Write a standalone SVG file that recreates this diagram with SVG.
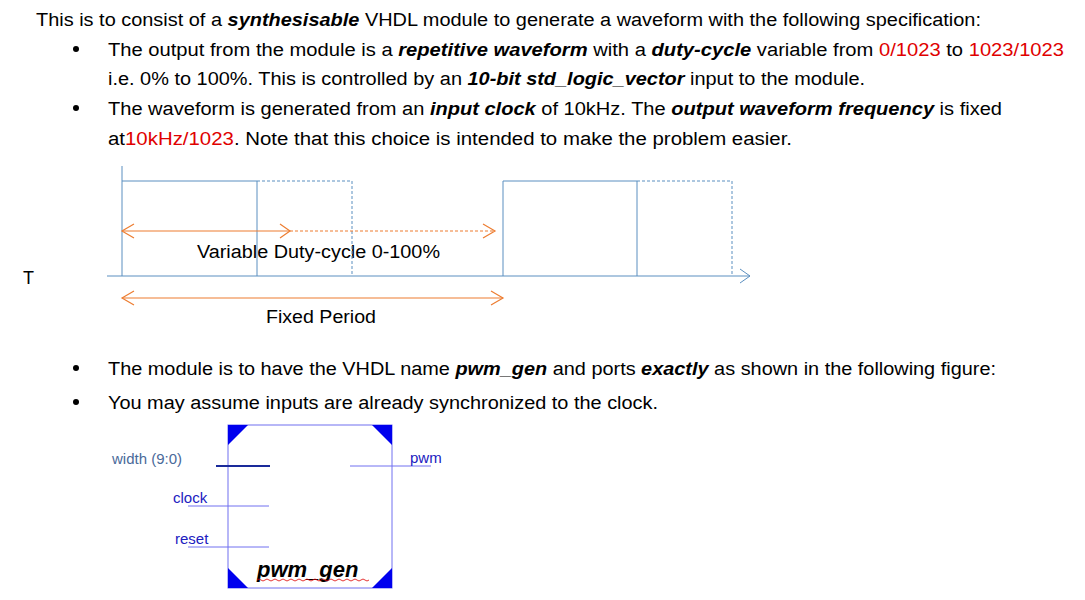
<svg xmlns="http://www.w3.org/2000/svg" width="1085" height="600" viewBox="0 0 1085 600">
<style>
.t{font-family:"Liberation Sans",Arial,sans-serif;font-size:18px;fill:#000}
.b{font-weight:bold;font-style:italic}
.r{fill:#e00000}
.w{stroke:#5b8fc0;stroke-width:1;fill:none}
.o{stroke:#ed7d31;stroke-width:1.2;fill:none}
.d{stroke-dasharray:3,2}
.p{font-family:"Liberation Sans",Arial,sans-serif;font-size:15px;fill:#2020c0}
.bl{stroke:#7070f0;stroke-width:1;fill:none}
</style>
<rect width="1085" height="600" fill="#fff"/>
<g id="text">
<text class="t" x="36" y="26" textLength="945" lengthAdjust="spacingAndGlyphs">This is to consist of a <tspan class="b">synthesisable</tspan> VHDL module to generate a waveform with the following specification:</text>
<circle cx="76" cy="49" r="3"/><circle cx="76" cy="108" r="3"/><circle cx="76" cy="368" r="3"/><circle cx="76" cy="402" r="3"/>
<text class="t" x="108" y="56" textLength="956" lengthAdjust="spacingAndGlyphs">The output from the module is a <tspan class="b">repetitive waveform</tspan> with a <tspan class="b">duty-cycle</tspan> variable from <tspan class="r">0/1023</tspan> to <tspan class="r">1023/1023</tspan></text>
<text class="t" x="108" y="85" textLength="757" lengthAdjust="spacingAndGlyphs">i.e. 0% to 100%.  This is controlled by an <tspan class="b">10-bit std_logic_vector</tspan> input to the module.</text>
<text class="t" x="108" y="115" textLength="894" lengthAdjust="spacingAndGlyphs">The waveform is generated from an <tspan class="b">input clock</tspan> of 10kHz. The <tspan class="b">output waveform frequency</tspan> is fixed</text>
<text class="t" x="108" y="145" textLength="684" lengthAdjust="spacingAndGlyphs">at<tspan class="r">10kHz/1023</tspan>. Note that this choice is intended to make the problem easier.</text>
<text class="t" x="197" y="258" textLength="243" lengthAdjust="spacingAndGlyphs">Variable Duty-cycle 0-100%</text>
<text class="t" x="266" y="323" textLength="110" lengthAdjust="spacingAndGlyphs">Fixed Period</text>
<text class="t" x="23" y="284">T</text>
<text class="t" x="108" y="375" textLength="888" lengthAdjust="spacingAndGlyphs">The module is to have the VHDL name <tspan class="b">pwm_gen</tspan> and ports <tspan class="b">exactly</tspan> as shown in the following figure:</text>
<text class="t" x="108" y="409" textLength="550" lengthAdjust="spacingAndGlyphs">You may assume inputs are already synchronized to the clock.</text>
</g>
<g id="waveform">
<line class="w" x1="107" y1="276" x2="750" y2="276"/>
<polyline class="w" points="740,269 750,276 740,283"/>
<polyline class="w" points="122,166 122,276"/>
<polyline class="w" points="122,181 257,181 257,276"/>
<polyline class="w d" points="257,181 352,181 352,276"/>
<polyline class="w" points="503,276 503,181 637,181 637,276"/>
<polyline class="w d" points="637,181 732,181 732,276"/>
</g>
<g id="connectors">
<line class="o" x1="122" y1="231" x2="290" y2="231"/>
<line class="o d" x1="290" y1="231" x2="495" y2="231"/>
<polyline class="o" points="134,224 122,231 134,238"/>
<polyline class="o" points="280,224 290,231 280,238"/>
<polyline class="o" points="483,224 495,231 483,238"/>
<line class="o" x1="122" y1="298" x2="503" y2="298"/>
<polyline class="o" points="134,291 122,298 134,305"/>
<polyline class="o" points="491,291 503,298 491,305"/>
</g>
<g id="pwm_gen">
<rect class="bl" x="228" y="425" width="164" height="163"/>
<polygon points="228,425 248,425 228,445" fill="#0000ee"/>
<polygon points="392,425 372,425 392,445" fill="#0000ee"/>
<polygon points="228,588 248,588 228,568" fill="#0000ee"/>
<polygon points="392,588 372,588 392,568" fill="#0000ee"/>
<line x1="216" y1="466" x2="270" y2="466" stroke="#1a2a9a" stroke-width="2"/>
<line class="bl" x1="350" y1="466" x2="431" y2="466"/>
<line class="bl" x1="188" y1="506" x2="269" y2="506"/>
<line class="bl" x1="188" y1="547" x2="269" y2="547"/>
<text class="p" x="112" y="464" style="fill:#4a6a9a">width (9:0)</text>
<text class="p" x="410" y="463">pwm</text>
<text class="p" x="173" y="503">clock</text>
<text class="p" x="175" y="544">reset</text>
<text x="257" y="577" font-family="Liberation Sans,Arial,sans-serif" font-size="22" font-weight="bold" font-style="italic">pwm_gen</text>
<path d="M257,580 q2,-2 4,0 t4,0 t4,0 t4,0 t4,0 t4,0 t4,0 t4,0 t4,0 t4,0 t4,0 t4,0 t4,0 t4,0 t4,0 t4,0 t4,0 t4,0 t4,0 t4,0 t4,0 t4,0 t4,0 t4,0 t4,0 t4,0 t4,0 t4,0" stroke="#d00" stroke-width="0.8" fill="none"/>
</g>
</svg>
